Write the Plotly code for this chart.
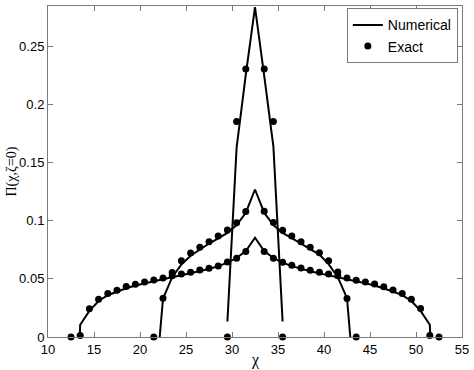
import plotly.graph_objects as go

# ---------------- data ----------------
# Narrow profile
narrow_exact_x = [29.5, 30.5, 31.5, 33.5, 34.5, 35.5]
narrow_exact_y = [0.0, 0.1855, 0.2307, 0.2307, 0.1855, 0.0]
narrow_num_x = [29.5, 30.5, 31.5, 32.5, 33.5, 34.5, 35.5]
narrow_num_y = [0.0134, 0.163, 0.226, 0.284, 0.225, 0.164, 0.0134]

# Middle profile
middle_exact_x = [21.5, 22.5, 23.5, 24.5, 25.5, 26.5, 27.5, 28.5, 29.5, 30.5, 31.5,
                  33.5, 34.5, 35.5, 36.5, 37.5, 38.5, 39.5, 40.5, 41.5, 42.5, 43.5]
middle_exact_y = [0.0, 0.0333, 0.0555, 0.0656, 0.0724, 0.0772, 0.0820, 0.0869, 0.0922, 0.0984, 0.1080,
                  0.1083, 0.0986, 0.0920, 0.0869, 0.0820, 0.0772, 0.0726, 0.0657, 0.0560, 0.0331, 0.0]
middle_num_x = [22.14, 22.5, 23.5, 24.5, 25.5, 26.5, 27.5, 28.5, 29.5, 30.5, 31.5, 32.5,
                33.5, 34.5, 35.5, 36.5, 37.5, 38.5, 39.5, 40.5, 41.5, 42.5, 42.86]
middle_num_y = [0.0, 0.033, 0.0515, 0.0625, 0.0700, 0.0755, 0.0805, 0.0850, 0.0897, 0.0963, 0.1070, 0.1270,
                0.1070, 0.0963, 0.0897, 0.0852, 0.0806, 0.0760, 0.0710, 0.0628, 0.0515, 0.0334, 0.0]

# Wide profile
wide_exact_x = [12.5, 13.5, 14.5, 15.5, 16.5, 17.5, 18.5, 19.5, 20.5, 21.5, 22.5, 23.5, 24.5, 25.5,
                26.5, 27.5, 28.5, 29.5, 30.5, 31.5,
                33.5, 34.5, 35.5, 36.5, 37.5, 38.5, 39.5, 40.5, 41.5, 42.5, 43.5, 44.5, 45.5,
                46.5, 47.5, 48.5, 49.5, 50.5, 51.5, 52.5]
wide_exact_y = [0.0, 0.0012, 0.0243, 0.0326, 0.0374, 0.0403, 0.0434, 0.0455, 0.0474, 0.0491, 0.0509,
                0.0527, 0.0543, 0.0558, 0.0576, 0.0591, 0.0612, 0.0645, 0.0677, 0.0736,
                0.0736, 0.0677, 0.0643, 0.0617, 0.0595, 0.0575, 0.0557, 0.0543, 0.0527, 0.0507,
                0.0489, 0.0474, 0.0456, 0.0433, 0.0405, 0.0374, 0.0326, 0.0245, 0.0013, 0.0]
wide_num_x = [13.45, 13.5, 14.5, 15.5, 16.5, 17.5, 18.5, 19.5, 20.5, 21.5, 22.5, 23.5, 24.5, 25.5,
              26.5, 27.5, 28.5, 29.5, 30.5, 31.5, 32.5,
              33.5, 34.5, 35.5, 36.5, 37.5, 38.5, 39.5, 40.5, 41.5, 42.5, 43.5, 44.5, 45.5,
              46.5, 47.5, 48.5, 49.5, 50.5, 51.5, 51.55]
wide_num_y = [0.0012, 0.0105, 0.0225, 0.0310, 0.0360, 0.0392, 0.0420, 0.0443, 0.0463, 0.0480, 0.0498,
              0.0515, 0.0532, 0.0548, 0.0566, 0.0586, 0.0610, 0.0640, 0.0680, 0.0740, 0.0855,
              0.0740, 0.0680, 0.0640, 0.0610, 0.0586, 0.0566, 0.0548, 0.0532, 0.0515, 0.0498,
              0.0480, 0.0463, 0.0443, 0.0420, 0.0392, 0.0360, 0.0310, 0.0225, 0.0105, 0.0013]

x_ticks = [10, 15, 20, 25, 30, 35, 40, 45, 50, 55]
y_ticks = [0, 0.05, 0.1, 0.15, 0.2, 0.25]
y_ticktext = ["0", "0.05", "0.1", "0.15", "0.2", "0.25"]

# ---------------- figure ----------------
fig = go.Figure()
line_style = dict(color="black", width=2)
marker_style = dict(color="black", size=7)

num_sets = [(narrow_num_x, narrow_num_y), (middle_num_x, middle_num_y), (wide_num_x, wide_num_y)]
for i, (xs, ys) in enumerate(num_sets):
    fig.add_trace(go.Scatter(x=xs, y=ys, mode="lines", line=line_style, name="Numerical",
                             showlegend=(i == 0)))

ex_sets = [(narrow_exact_x, narrow_exact_y), (middle_exact_x, middle_exact_y), (wide_exact_x, wide_exact_y)]
for i, (xs, ys) in enumerate(ex_sets):
    fig.add_trace(go.Scatter(x=xs, y=ys, mode="markers", marker=marker_style, name="Exact",
                             showlegend=(i == 0), cliponaxis=False))

axis_color = "#7a7a7a"
fig.update_xaxes(range=[10, 55], tickvals=x_ticks, showline=True, mirror="ticks",
                 linecolor=axis_color, linewidth=1, ticks="inside", ticklen=5,
                 tickcolor=axis_color, showgrid=False, zeroline=False,
                 tickfont=dict(family="Liberation Sans, Arial", size=13, color="black"))
fig.update_yaxes(range=[0, 0.285], tickvals=y_ticks, ticktext=y_ticktext, showline=True,
                 mirror="ticks", linecolor=axis_color, linewidth=1, ticks="inside", ticklen=5,
                 tickcolor=axis_color, showgrid=False, zeroline=False,
                 tickfont=dict(family="Liberation Sans, Arial", size=13, color="black"))

fig.add_annotation(text="Π(χ,ζ=0)", textangle=-90, xref="paper", yref="paper", x=0, y=0.5,
                   xanchor="center", yanchor="middle", xshift=-37, showarrow=False,
                   font=dict(family="Liberation Serif, Times New Roman", size=14, color="black"))
fig.add_annotation(text="χ", xref="paper", yref="paper", x=0.5, y=0,
                   xanchor="center", yanchor="middle", yshift=-23, showarrow=False,
                   font=dict(family="Liberation Serif, Times New Roman", size=16, color="black"))

fig.update_layout(
    width=474, height=370,
    margin=dict(l=48, r=10, t=5, b=33),
    paper_bgcolor="white", plot_bgcolor="white",
    legend=dict(x=0.99, y=0.993, xanchor="right", yanchor="top",
                bgcolor="white", bordercolor=axis_color, borderwidth=1,
                font=dict(family="Liberation Sans, Arial", size=14, color="black"),
                tracegroupgap=0, itemwidth=30),
    showlegend=True,
)

fig.write_html("out.html", config={"displayModeBar": False},
               post_script="document.body.style.margin='0';document.body.style.overflow='hidden';")
